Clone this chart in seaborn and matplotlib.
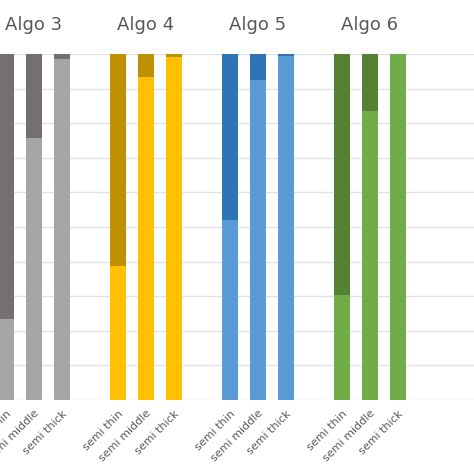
import matplotlib
matplotlib.use("Agg")
import matplotlib.pyplot as plt
import seaborn as sns
import pandas as pd

# data: share of the light (lower) segment per bar
algos = ["Algo 2", "Algo 3", "Algo 4", "Algo 5", "Algo 6"]
members = ["semi thin", "semi middle", "semi thick"]
light_share = {
    "Algo 2": [1.0, 1.0, 1.0],
    "Algo 3": [0.234, 0.757, 0.985],
    "Algo 4": [0.387, 0.934, 0.99],
    "Algo 5": [0.52, 0.925, 0.995],
    "Algo 6": [0.303, 0.835, 1.0],
}
light_colors = {"Algo 2": "#ED7D31", "Algo 3": "#A5A5A5", "Algo 4": "#FFC000",
                "Algo 5": "#5B9BD5", "Algo 6": "#70AD47"}
dark_colors = {"Algo 2": "#C55A11", "Algo 3": "#747070", "Algo 4": "#BF9000",
               "Algo 5": "#2E75B6", "Algo 6": "#548235"}

rows = []
for g, algo in enumerate(algos, start=2):
    for m, name in enumerate(members):
        rows.append({"algo": algo, "member": name, "pos": 4 * g + m - 2,
                     "light": light_share[algo][m], "total": 1.0})
df = pd.DataFrame(rows)

sns.set_style("white")
fig = plt.figure(figsize=(4.74, 4.74), dpi=100)
ax = fig.add_axes([0, 1 - 400 / 474, 1, 346 / 474])

sns.barplot(data=df, x="pos", y="total", hue="algo", palette=dark_colors,
            native_scale=True, dodge=False, width=0.54, legend=False, ax=ax,
            errorbar=None, saturation=1, zorder=2)
sns.barplot(data=df, x="pos", y="light", hue="algo", palette=light_colors,
            native_scale=True, dodge=False, width=0.54, legend=False, ax=ax,
            errorbar=None, saturation=1, zorder=3)
for p in ax.patches:
    p.set_edgecolor("none")

ax.set_xticks(df["pos"])
ax.set_xticklabels(df["member"], rotation=45, ha="right", rotation_mode="anchor",
                   color="#595959", fontsize=8)
ax.tick_params(axis="x", length=0, pad=6)
ax.set_xlabel("")
ax.set_ylabel("")

ax.set_xlim(12 - 62 / 28, 12 + (474 - 62) / 28)
ax.set_ylim(0, 1)
ax.set_yticks([i / 10 for i in range(11)])
ax.yaxis.grid(True, color="#E3E3E3", linewidth=1)
ax.set_axisbelow(True)
ax.tick_params(axis="y", left=False, labelleft=False)
for s in ax.spines.values():
    s.set_visible(False)

for g, algo in enumerate(algos, start=2):
    ax.text(4 * g - 1, 1.085, algo, ha="center", va="center", fontsize=13,
            color="#595959", clip_on=False)

fig.savefig("out.png", dpi=100)
